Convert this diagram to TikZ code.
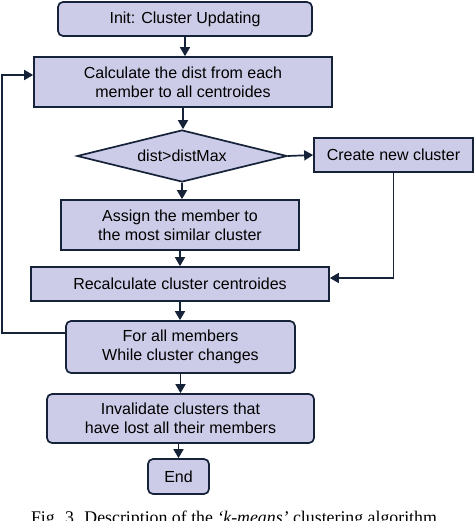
\documentclass[tikz,border=0pt]{standalone}
\usepackage{fontspec}
\setmainfont{Liberation Sans}
\newfontfamily\capfont{Liberation Serif}
\usetikzlibrary{shapes.geometric,arrows.meta}
\definecolor{boxfill}{HTML}{CCCCE8}
\definecolor{boxline}{HTML}{152238}
\tikzset{
  box/.style={draw=boxline, fill=boxfill, line width=1.7pt, align=center,
    inner sep=0pt, font=\fontsize{16}{19}\selectfont},
  roundbox/.style={box, rounded corners=5pt},
  decision/.style={box, diamond, aspect=4},
  arr/.style={draw=boxline, line width=1.7pt, -{Triangle[width=10pt,length=9pt]}},
  line/.style={draw=boxline, line width=1.7pt}
}
\begin{document}
\begin{tikzpicture}[x=1pt, y=-1pt]
\useasboundingbox (0,0) rectangle (474,521);
% Steps of the loop
\node [roundbox, minimum width=254pt, minimum height=34pt] (init) at (185,19) {Init: Cluster Updating};
\node [box, minimum width=298pt, minimum height=50pt] (calc) at (183,82) {Calculate the dist from each\\member to all centroides};
\node [decision, minimum width=210pt, minimum height=52pt] (test) at (182,156) {dist>distMax};
\node [box, minimum width=159pt, minimum height=34pt] (create) at (393.5,155) {Create new cluster};
\node [box, minimum width=238pt, minimum height=50pt] (assign) at (180,225) {Assign the member to\\the most similar cluster};
\node [box, minimum width=298pt, minimum height=34pt] (recalc) at (180,284) {Recalculate cluster centroides};
\node [roundbox, minimum width=229pt, minimum height=52pt] (forall) at (180.5,347) {For all members\\While cluster changes};
\node [roundbox, minimum width=267pt, minimum height=49pt] (inval) at (180.5,418.5) {Invalidate clusters that\\have lost all their members};
\node [roundbox, minimum width=61pt, minimum height=35pt] (endn) at (178.5,476.5) {End};

% Caption
\node [anchor=base, inner sep=0pt, font=\capfont\fontsize{17.8}{20}\selectfont] (caption) at (234,523)
  {Fig. 3. Description of the \textit{‘k-means’} clustering algorithm};

% Connectors
\draw [arr] (init.south) -- (init.south |- calc.north);
\draw [arr] (calc.south) -- (calc.south |- test.north);
\draw [arr] (test.south) -- (test.south |- assign.north);
\draw [arr] (test.east) -- (create.west);
\draw [arr] (assign.south) -- (assign.south |- recalc.north);
\draw [arr] (create.south) |- ([yshift=6pt]recalc.east);
\draw [arr] (recalc.south) -- (recalc.south |- forall.north);
\draw [arr] (forall.south) -- (forall.south |- inval.north);
\draw [arr] (endn.north |- inval.south) -- (endn.north);

% Back to the distance step
\coordinate (back) at (2,75);
\draw [arr] ([yshift=14pt]forall.west) -| (back) -- ([yshift=7pt]calc.west);
\end{tikzpicture}
\end{document}
